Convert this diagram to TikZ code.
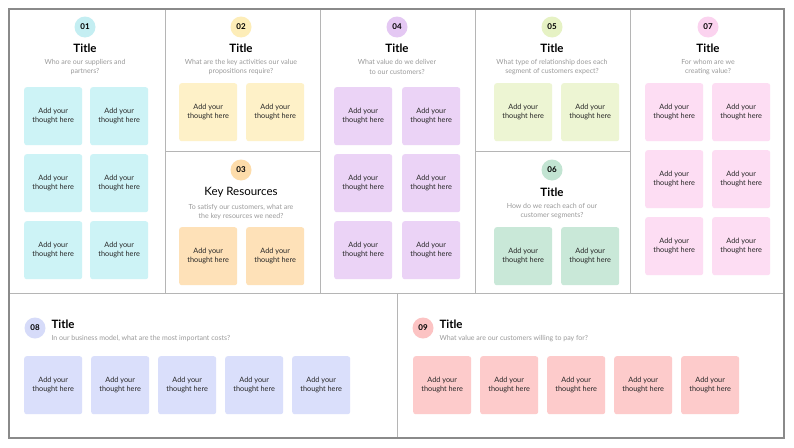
\documentclass[tikz,border=0pt]{standalone}
\usepackage{fontspec}
\setmainfont{Lato}
\definecolor{cy}{HTML}{CDF3F6}\definecolor{cyc}{HTML}{C4EEF2}
\definecolor{ye}{HTML}{FEF1C8}\definecolor{yec}{HTML}{FDEDB8}
\definecolor{or}{HTML}{FEE1B8}\definecolor{orc}{HTML}{FDDCAA}
\definecolor{pu}{HTML}{EBD3F6}\definecolor{puc}{HTML}{E4C8F3}
\definecolor{gy}{HTML}{EDF5D3}\definecolor{gyc}{HTML}{E6F2C4}
\definecolor{gr}{HTML}{C9E8D8}\definecolor{grc}{HTML}{C2E4D2}
\definecolor{pk}{HTML}{FDDDF3}\definecolor{pkc}{HTML}{FBD3EF}
\definecolor{lv}{HTML}{DADFFB}\definecolor{lvc}{HTML}{D6DBF9}
\definecolor{rd}{HTML}{FDCBCB}\definecolor{rdc}{HTML}{FCC3C3}
\definecolor{sub}{HTML}{9A9A9A}\definecolor{frame}{HTML}{8A8A8A}\definecolor{inner}{HTML}{B5B5B5}
\tikzset{
 note/.style={rounded corners=2.5pt,minimum width=58pt,minimum height=58pt,inner sep=0pt,align=center,font=\fontsize{7.3}{9}\selectfont,text=black!85},
 num/.style={circle,minimum size=21pt,inner sep=0pt,font=\bfseries\fontsize{8}{9}\selectfont},
 ttl/.style={font=\bfseries\fontsize{11.5}{13}\selectfont},
 kttl/.style={font=\fontsize{11.5}{13}\selectfont},
 subt/.style={align=center,text=sub,font=\fontsize{7}{9.6}\selectfont},
}
\newcommand{\nt}[4]{\node[note,fill=#1,anchor=north west] (#2) at (#3,#4) {Add your\\thought here};}
\begin{document}
\begin{tikzpicture}[x=1pt,y=-1pt]
\useasboundingbox (0,0) rectangle (794,447);
\fill[white] (0,0) rectangle (794,447);
\draw[inner,line width=0.8pt] (165,9)--(165,293) (320,9)--(320,293) (475,9)--(475,293) (630,9)--(630,293)
 (165,151)--(320,151) (475,151)--(630,151) (9,293)--(784,293) (397,293)--(397,438);
\draw[frame,line width=1.2pt] (9,9) rectangle (784,438);
% 01
\node[num,fill=cyc] (n1) at (85,27) {01};
\node[ttl] (t1) at (85,48) {Title};
\node[subt] (s1) at (85,67) {Who are our suppliers and\\partners?};
\nt{cy}{a1}{24}{87}\nt{cy}{a2}{90}{87}\nt{cy}{a3}{24}{154}\nt{cy}{a4}{90}{154}\nt{cy}{a5}{24}{221}\nt{cy}{a6}{90}{221}
% 02
\node[num,fill=yec] (n2) at (241,27) {02};
\node[ttl] (t2) at (241,48) {Title};
\node[subt] (s2) at (241,67) {What are the key activities our value\\propositions require?};
\nt{ye}{b1}{179}{83}\nt{ye}{b2}{246}{83}
% 03
\node[num,fill=orc] (n3) at (241,170) {03};
\node[kttl] (t3) at (241,192) {Key Resources};
\node[subt] (s3) at (241,212) {To satisfy our customers, what are\\the key resources we need?};
\nt{or}{c1}{179}{227}\nt{or}{c2}{246}{227}
% 04
\node[num,fill=puc] (n4) at (397,27) {04};
\node[ttl] (t4) at (397,48) {Title};
\node[subt] (s4) at (397,67) {What value do we deliver\\to our customers?};
\nt{pu}{d1}{334}{87}\nt{pu}{d2}{402}{87}\nt{pu}{d3}{334}{154}\nt{pu}{d4}{402}{154}\nt{pu}{d5}{334}{221}\nt{pu}{d6}{402}{221}
% 05
\node[num,fill=gyc] (n5) at (552,27) {05};
\node[ttl] (t5) at (552,48) {Title};
\node[subt] (s5) at (552,67) {What type of relationship does each\\segment of customers expect?};
\nt{gy}{e1}{494}{83}\nt{gy}{e2}{561}{83}
% 06
\node[num,fill=grc] (n6) at (552,170) {06};
\node[ttl] (t6) at (552,192) {Title};
\node[subt] (s6) at (552,211) {How do we reach each of our\\customer segments?};
\nt{gr}{f1}{494}{227}\nt{gr}{f2}{561}{227}
% 07
\node[num,fill=pkc] (n7) at (708,27) {07};
\node[ttl] (t7) at (708,48) {Title};
\node[subt] (s7) at (708,67) {For whom are we\\creating value?};
\nt{pk}{g1}{645}{83}\nt{pk}{g2}{712}{83}\nt{pk}{g3}{645}{150}\nt{pk}{g4}{712}{150}\nt{pk}{g5}{645}{217}\nt{pk}{g6}{712}{217}
% 08
\node[num,fill=lvc] (n8) at (35,328) {08};
\node[ttl,anchor=west] (t8) at (48,324) {Title};
\node[subt,anchor=west] (s8) at (48,338.5) {In our business model, what are the most important costs?};
\nt{lv}{h1}{24}{356}\nt{lv}{h2}{91}{356}\nt{lv}{h3}{158}{356}\nt{lv}{h4}{225}{356}\nt{lv}{h5}{292}{356}
% 09
\node[num,fill=rdc] (n9) at (423,328) {09};
\node[ttl,anchor=west] (t9) at (436,324) {Title};
\node[subt,anchor=west] (s9) at (436,338.5) {What value are our customers willing to pay for?};
\nt{rd}{i1}{413}{356}\nt{rd}{i2}{480}{356}\nt{rd}{i3}{547}{356}\nt{rd}{i4}{614}{356}\nt{rd}{i5}{681}{356}
\end{tikzpicture}
\end{document}
